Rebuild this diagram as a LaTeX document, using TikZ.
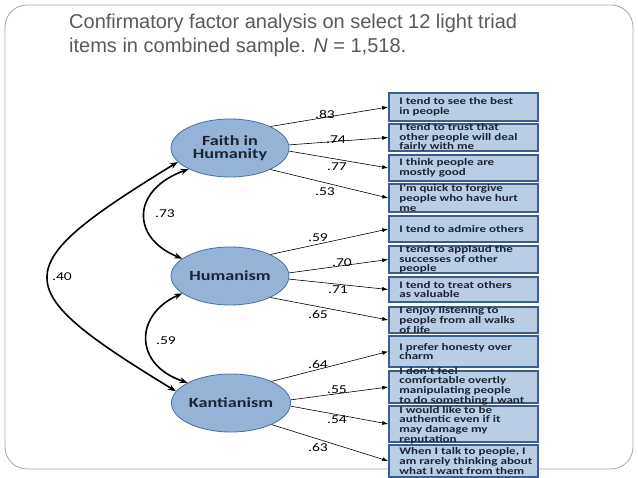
\documentclass[tikz,border=0pt]{standalone}
\usepackage{fontspec}
\setmainfont{Liberation Sans}
\newfontfamily\calib[FakeStretch=1.3]{Carlito}
\usetikzlibrary{arrows.meta,shapes.geometric}
\definecolor{ellfill}{HTML}{95B3D7}
\definecolor{elldraw}{HTML}{4A6E9E}
\definecolor{boxfill}{HTML}{B9CDE5}
\definecolor{boxdraw}{HTML}{3B5E8C}
\definecolor{titlegray}{HTML}{595959}
\definecolor{framegray}{HTML}{A6A6A6}
\definecolor{txtdark}{HTML}{1C2433}
\begin{document}
\begin{tikzpicture}[x=1pt,y=-1pt,
 itembox/.style={draw=boxdraw, line width=1.6pt, fill=boxfill, minimum width=149pt, inner sep=0pt},
 itemtext/.style={anchor=west, align=left, inner sep=0pt, font=\calib\bfseries\fontsize{10}{9.7}\selectfont, text=txtdark},
 factor/.style={ellipse, draw=elldraw, line width=0.8pt, fill=ellfill, minimum width=118pt, minimum height=58pt, inner sep=0pt, align=center, font=\calib\bfseries\fontsize{14}{13.5}\selectfont, text=txtdark},
 load/.style={-{Latex[length=6pt,width=4pt]}, line width=0.6pt},
 corr/.style={{Stealth[length=8pt,width=6pt]}-{Stealth[length=8pt,width=6pt]}, line width=1.6pt},
 num/.style={font=\calib\fontsize{12}{12}\selectfont, inner sep=0pt},
 titletext/.style={anchor=base west, inner sep=0pt, text=titlegray, font=\fontsize{20}{24}\selectfont}]
\useasboundingbox (0,0) rectangle (638,478);
\draw[framegray, line width=0.8pt, rounded corners=22pt] (5,5) rectangle (633,469);

\node[titletext] (ti1) at (69,29) {Confirmatory factor analysis on select 12 light triad};
\node[titletext] (ti2) at (69,53) {items in combined sample. \textit{N} = 1,518.};

% item boxes
\node[itembox, minimum height=28pt] (b1) at (463.5,107) {};
\node[itembox, minimum height=27pt] (b2) at (463.5,137.5) {};
\node[itembox, minimum height=26pt] (b3) at (463.5,168) {};
\node[itembox, minimum height=28pt] (b4) at (463.5,198) {};
\node[itembox, minimum height=26pt] (b5) at (463.5,229) {};
\node[itembox, minimum height=27pt] (b6) at (463.5,259.5) {};
\node[itembox, minimum height=25pt] (b7) at (463.5,289.5) {};
\node[itembox, minimum height=26pt] (b8) at (463.5,320) {};
\node[itembox, minimum height=31pt] (b9) at (463.5,351.5) {};
\node[itembox, minimum height=32pt] (b10) at (463.5,387) {};
\node[itembox, minimum height=36pt] (b11) at (463.5,424) {};
\node[itembox, minimum height=32pt] (b12) at (463.5,461) {};

\node[itemtext] (x1) at ([xshift=11pt]b1.west) {I tend to see the best\\in people};
\node[itemtext] (x2) at ([xshift=11pt]b2.west) {I tend to trust that\\other people will deal\\fairly with me};
\node[itemtext] (x3) at ([xshift=11pt]b3.west) {I think people are\\mostly good};
\node[itemtext] (x4) at ([xshift=11pt]b4.west) {I’m quick to forgive\\people who have hurt\\me};
\node[itemtext] (x5) at ([xshift=11pt]b5.west) {I tend to admire others};
\node[itemtext] (x6) at ([xshift=11pt]b6.west) {I tend to applaud the\\successes of other\\people};
\node[itemtext] (x7) at ([xshift=11pt]b7.west) {I tend to treat others\\as valuable};
\node[itemtext] (x8) at ([xshift=11pt]b8.west) {I enjoy listening to\\people from all walks\\of life};
\node[itemtext] (x9) at ([xshift=11pt]b9.west) {I prefer honesty over\\charm};
\node[itemtext] (x10) at ([xshift=11pt,yshift=1pt]b10.west) {I don’t feel\\comfortable overtly\\manipulating people\\to do something I want};
\node[itemtext] (x11) at ([xshift=11pt,yshift=-1pt]b11.west) {I would like to be\\authentic even if it\\may damage my\\reputation};
\node[itemtext] (x12) at ([xshift=11pt]b12.west) {When I talk to people, I\\am rarely thinking about\\what I want from them};

% factors
\node[factor] (f) at (230,148) {Faith in\\Humanity};
\node[factor] (h) at (230,276) {Humanism};
\node[factor] (k) at (231,403) {Kantianism};

% loadings
\draw[load] (f.28) -- (b1.west);
\draw[load] (f.3) -- (b2.west);
\draw[load] (f.-3) -- (b3.west);
\draw[load] (f.-28) -- (b4.west);
\draw[load] (h.28) -- (b5.west);
\draw[load] (h.3) -- (b6.west);
\draw[load] (h.-3) -- (b7.west);
\draw[load] (h.-28) -- (b8.west);
\draw[load] (k.28) -- (b9.west);
\draw[load] (k.3) -- (b10.west);
\draw[load] (k.-3) -- (b11.west);
\draw[load] (k.-28) -- (b12.west);

\node[num] (l1) at (325,114) {.83};
\node[num] (l2) at (336,140) {.74};
\node[num] (l3) at (337,167) {.77};
\node[num] (l4) at (325,192) {.53};
\node[num] (l5) at (318,238) {.59};
\node[num] (l6) at (342,263) {.70};
\node[num] (l7) at (338,290) {.71};
\node[num] (l8) at (318,314) {.65};
\node[num] (l9) at (318,364) {.64};
\node[num] (l10) at (337,390) {.55};
\node[num] (l11) at (337,420) {.54};
\node[num] (l12) at (318,447) {.63};

% correlations
\draw[corr] (f.207) .. controls (131,190) and (131,238) .. (h.160);
\draw[corr] (h.200) .. controls (134,315) and (134,365) .. (k.155);
\draw[corr] (f.195) .. controls (5,268) and (5,287) .. (k.168);
\node[num] (c1) at (165,214) {.73};
\node[num] (c2) at (166,341) {.59};
\node[num] (c3) at (62,277) {.40};
\end{tikzpicture}
\end{document}
